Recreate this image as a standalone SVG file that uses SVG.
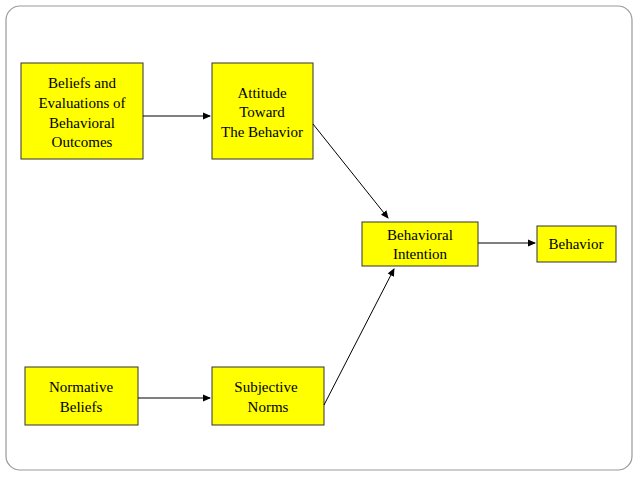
<svg xmlns="http://www.w3.org/2000/svg" width="638" height="478" viewBox="0 0 638 478">
<style>
.n rect{fill:#ffff00;stroke:#333;stroke-width:1}
text{font-family:"Liberation Serif",serif;font-size:15px;fill:#000;text-anchor:middle}
.c line{stroke:#000;stroke-width:1;marker-end:url(#a)}
</style>
<defs><marker id="a" markerWidth="8" markerHeight="8" refX="7" refY="4" orient="auto" markerUnits="userSpaceOnUse"><path d="M0,0.5 L8,4 L0,7.5z" fill="#000"/></marker></defs>
<rect width="638" height="478" fill="#fff"/>
<rect x="6" y="6" width="626" height="464" rx="14" fill="none" stroke="#999" stroke-width="1.2"/>
<g id="beliefs" class="n"><rect x="21" y="63" width="122" height="96"/><text x="82" y="88">Beliefs and</text><text x="82" y="108">Evaluations of</text><text x="82" y="128">Behavioral</text><text x="82" y="147">Outcomes</text></g>
<g id="attitude" class="n"><rect x="212" y="63" width="101" height="96"/><text x="262" y="98">Attitude</text><text x="262" y="117">Toward</text><text x="262" y="137">The Behavior</text></g>
<g id="intention" class="n"><rect x="362" y="222" width="116" height="44"/><text x="420" y="240">Behavioral</text><text x="420" y="259">Intention</text></g>
<g id="behavior" class="n"><rect x="537" y="226" width="79" height="36"/><text x="576" y="249">Behavior</text></g>
<g id="normative" class="n"><rect x="25" y="367" width="113" height="58"/><text x="81" y="392">Normative</text><text x="81" y="412">Beliefs</text></g>
<g id="subjective" class="n"><rect x="212" y="367" width="112" height="58"/><text x="266" y="392">Subjective</text><text x="268" y="412">Norms</text></g>
<g id="connectors" class="c">
<line x1="143" y1="116" x2="210" y2="116"/>
<line x1="313" y1="124" x2="388" y2="218"/>
<line x1="478" y1="243" x2="535" y2="243"/>
<line x1="138" y1="398" x2="210" y2="398"/>
<line x1="324" y1="405" x2="394" y2="269"/>
</g>
</svg>
